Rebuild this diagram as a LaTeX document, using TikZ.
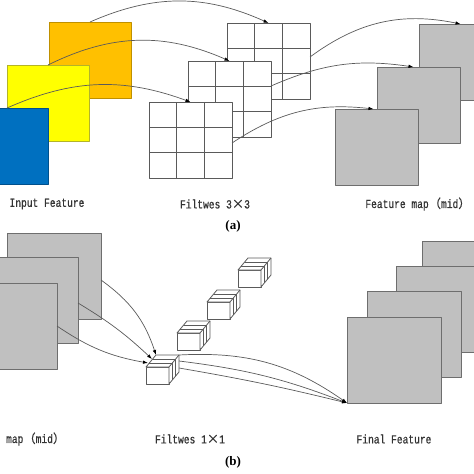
\documentclass[tikz,border=0pt]{standalone}
\usepackage{fontspec}
\newfontfamily\labfont[FakeStretch=0.78,FakeBold=0.6]{Liberation Mono}
\newfontfamily\cjk[FakeBold=0.3]{Noto Sans CJK SC}
\newfontfamily\capfont{Liberation Serif}
\usetikzlibrary{calc,arrows.meta}
\definecolor{orangesq}{RGB}{255,192,0}
\definecolor{orangeline}{RGB}{191,144,0}
\definecolor{yellowsq}{RGB}{255,255,0}
\definecolor{yellowline}{RGB}{180,180,40}
\definecolor{bluesq}{RGB}{0,112,192}
\definecolor{blueline}{RGB}{0,80,140}
\definecolor{mapgray}{RGB}{192,192,192}
\definecolor{mapline}{RGB}{110,110,110}
\definecolor{gridline}{RGB}{90,90,90}
\definecolor{linkgray}{RGB}{90,90,90}

\begin{document}
\begin{tikzpicture}[x=1pt,y=-1pt,line width=0.8pt,line join=round,
  sq/.style={draw,inner sep=0pt,outer sep=0pt,anchor=north west},
  inmap/.style={sq,minimum width=82pt,minimum height=76pt},
  grid/.style={sq,fill=white,draw=gridline,minimum width=83pt,minimum height=76pt},
  midmap/.style={sq,fill=mapgray,draw=mapline,minimum width=83pt,minimum height=76pt},
  bigmap/.style={sq,fill=mapgray,draw=mapline,minimum width=94pt,minimum height=86pt},
  cubeface/.style={sq,fill=white,draw=gridline,minimum width=23pt,minimum height=17pt,anchor=south west},
  link/.style={draw=linkgray,line width=0.7pt,-{Latex[length=5pt,width=3.5pt,color=black]}},
  lab/.style={font=\labfont\fontsize{12.3}{13}\selectfont,text=black!80},
  captext/.style={font=\capfont\bfseries\fontsize{13}{14}\selectfont}]
  \useasboundingbox (0,0) rectangle (474,474);

  \node[inmap,fill=orangesq,draw=orangeline] (inO) at (49,22) {};
  \node[inmap,fill=yellowsq,draw=yellowline] (inY) at (7,65) {};
  \node[inmap,fill=bluesq,draw=blueline] (inB) at (-34,108) {};

  \foreach \n/\x/\y in {gb/227/23,gm/188/61,gf/149/102}{
    \node[grid] (\n) at (\x,\y) {};
    \foreach \t in {1/3,2/3}
      \draw[gridline] ($(\n.north west)!\t!(\n.north east)$) -- ($(\n.south west)!\t!(\n.south east)$)
        ($(\n.north west)!\t!(\n.south west)$) -- ($(\n.north east)!\t!(\n.south east)$);
  }

  \node[midmap] (mb) at (419,24) {};
  \node[midmap] (mm) at (377,67) {};
  \node[midmap] (mf) at (335,109) {};

  \draw[link] (inO.north) to[bend left=24] (gb.north);
  \draw[link] (inY.north) to[bend left=25] (gm.north);
  \draw[link] (inB.north) to[bend left=22] (gf.north);
  \draw[link] ($(gb.east)+(0,-4)$) to[bend left=24] (mb.north);
  \draw[link] ($(gm.east)+(0,-13)$) to[bend left=16] ($(mm.north)+(-5,0)$);
  \draw[link] ($(gf.east)+(0,3)$) to[bend left=20] ($(mf.north)+(-3,0)$);

  \node[lab] (labin) at (47,204) {Input Feature};
  \node[lab] (labf3) at (215,204) {Filtwes 3{\cjk ×}3};
  \node[lab] (labmid) at (418,204) {Feature map{\cjk （}mid{\cjk ）}};
  \node[captext] (capa) at (233,226) {(a)};

  \node[bigmap] (lb) at (7,233) {};
  \node[bigmap] (lm) at (-16,257) {};
  \node[bigmap] (lf) at (-37,283) {};

  \foreach \n/\x/\y in {c4/238/287,c3/207/319,c2/177/350,c1/146/384}{
    \node[cubeface] (\n) at (\x,\y) {};
    \draw[gridline,fill=white] (\n.north west) -- ++(10,-12) -- ($(\n.north east)+(10,-12)$)
      -- ($(\n.south east)+(10,-12)$) -- (\n.south east) -- (\n.north east) -- cycle;
    \draw[gridline] (\n.north east) -- ++(10,-12);
    \foreach \k in {1,2}
      \draw[gridline] ($(\n.north west)+(10*\k/3,-12*\k/3)$) -- ($(\n.north east)+(10*\k/3,-12*\k/3)$)
        -- ($(\n.south east)+(10*\k/3,-12*\k/3)$);
  }

  \node[bigmap] (f4) at (422,241) {};
  \node[bigmap] (f3) at (396,266) {};
  \node[bigmap] (f2) at (367,291) {};
  \node[bigmap] (f1) at (347,317) {};

  \draw[link] ($(lb.east)+(0,4)$) to[bend left=18] ($(c1.north west)+(10,-12)$);
  \draw[link] ($(lm.east)+(0,3)$) to[bend left=6] ($(c1.north west)+(6,-8)$);
  \draw[link] (lf.east) to[bend right=12] ($(c1.north west)+(2,-4)$);
  \draw[link] ($(c1.north east)+(10,-12)$) to[bend left=19] (f1.south west);
  \draw[link] ($(c1.north east)+(10,-6)$) to[bend left=7] (f1.south west);
  \draw[link] ($(c1.north east)+(10,1)$) to[bend left=2] (f1.south west);

  \node[lab,anchor=east] (labmap) at (69,439) {map{\cjk （}mid{\cjk ）}};
  \node[lab] (labf1) at (190,439) {Filtwes 1{\cjk ×}1};
  \node[lab] (labfin) at (394,439) {Final Feature};
  \node[captext] (capb) at (233,462) {(b)};
\end{tikzpicture}
\end{document}
